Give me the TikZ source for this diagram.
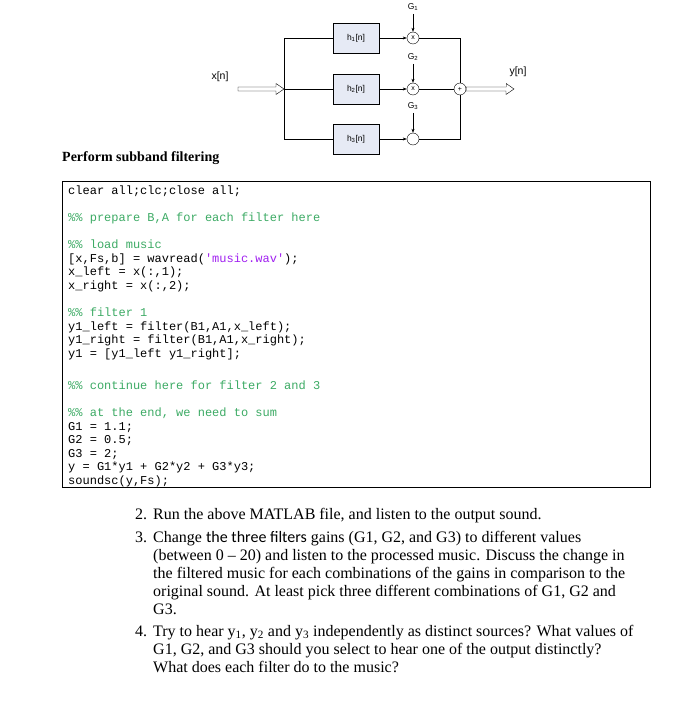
\documentclass[tikz,border=0pt]{standalone}
\usepackage{fontspec}
\setmainfont{Liberation Serif}
\newfontfamily\dsans{Liberation Sans}
\newfontfamily\dmono{Liberation Mono}
\newfontfamily\dcarl{Carlito}
\usetikzlibrary{arrows.meta}
\definecolor{cmt}{RGB}{60,170,100}
\definecolor{str}{RGB}{160,32,240}
\definecolor{boxfill}{RGB}{230,234,245}
\begin{document}
\begin{tikzpicture}[x=1pt,y=-1pt,
 blk/.style={draw,fill=boxfill,minimum width=46pt,minimum height=30pt,inner sep=0pt,font=\dsans\fontsize{8.5}{9}\selectfont},
 op/.style={draw,circle,fill=white,minimum size=12pt,inner sep=0pt,font=\dsans\fontsize{7}{7}\selectfont},
 lbl/.style={font=\dsans\fontsize{8.5}{9}\selectfont,inner sep=0pt},
 code/.style={anchor=base west,inner sep=0pt,font=\dmono\fontsize{12}{12}\selectfont},
 txt/.style={anchor=base west,inner sep=0pt,font=\fontsize{16}{18}\selectfont},
 ar/.style={-{Stealth[length=4pt]}}]
\useasboundingbox (0,0) rectangle (699,714);
% diagram
\node[blk] (h1) at (356,38) {h\textsubscript{1}[n]};
\node[blk] (h2) at (356,89) {h\textsubscript{2}[n]};
\node[blk] (h3) at (356,139) {h\textsubscript{3}[n]};
\node[op] (m1) at (413,38) {x};
\node[op] (m2) at (413,89) {x};
\node[op] (m3) at (413,139) {};
\node[op] (s) at (460,89) {+};
\node[lbl] (g1) at (413,7) {G\textsubscript{1}};
\node[lbl] (g2) at (413,57) {G\textsubscript{2}};
\node[lbl] (g3) at (413,106) {G\textsubscript{3}};
\node[lbl,font=\dsans\fontsize{10.5}{11}\selectfont] (xn) at (220,77) {x[n]};
\node[lbl,font=\dsans\fontsize{10.5}{11}\selectfont] (yn) at (518,72) {y[n]};
\coordinate (in) at (238,89);
\coordinate (sp) at (284,89);
\coordinate (out) at (514,89);
\draw[fill=white] (in) ++(0,-2) -- ++(38,0) -- ++(0,-3.5) -- (sp) -- ++(-8,5.5) -- ++(0,-3.5) -- ++(-38,0) -- cycle;
\draw (sp) |- (h1.west);
\draw (sp) |- (h3.west);
\draw (sp) -- (h2.west);
\draw[ar] (h1) -- (m1);
\draw[ar] (h2) -- (m2);
\draw[ar] (h3) -- (m3);
\draw[ar] (g1) ++(0,7) -- (m1);
\draw[ar] (g2) ++(0,7) -- (m2);
\draw[ar] (g3) ++(0,7) -- (m3);
\draw (m1) -| (s);
\draw (m3) -| (s);
\draw (m2) -- (s);
\draw[fill=white] (s.east) ++(0,-2) -- ++(40,0) -- ++(0,-3.5) -- (out) -- ++(-8,5.5) -- ++(0,-3.5) -- ++(-40,0) -- cycle;
% title
\node[anchor=base west,inner sep=0pt,font=\bfseries\fontsize{14}{16}\selectfont] (title) at (62,161) {Perform subband filtering};
% code box
\node[draw,line width=0.8pt,minimum width=588pt,minimum height=306pt,anchor=north west,inner sep=0pt] (cbox) at (62,181) {};
\node[code] (c1) at (68,194) {clear all;clc;close all;};
\node[code,cmt] (c2) at (68,221) {\%\% prepare B,A for each filter here};
\node[code,cmt] (c3) at (68,248) {\%\% load music};
\node[code] (c4) at (68,262) {[x,Fs,b] = wavread(\textcolor{str}{'music.wav'});};
\node[code] (c5) at (68,275) {x\_left = x(:,1);};
\node[code] (c6) at (68,289) {x\_right = x(:,2);};
\node[code,cmt] (c7) at (68,316) {\%\% filter 1};
\node[code] (c8) at (68,330) {y1\_left = filter(B1,A1,x\_left);};
\node[code] (c9) at (68,343) {y1\_right = filter(B1,A1,x\_right);};
\node[code] (c10) at (68,357) {y1 = [y1\_left y1\_right];};
\node[code,cmt] (c11) at (68,389) {\%\% continue here for filter 2 and 3};
\node[code,cmt] (c12) at (68,416) {\%\% at the end, we need to sum};
\node[code] (c13) at (68,430) {G1 = 1.1;};
\node[code] (c14) at (68,443) {G2 = 0.5;};
\node[code] (c15) at (68,457) {G3 = 2;};
\node[code] (c16) at (68,470) {y = G1*y1 + G2*y2 + G3*y3;};
\node[code] (c17) at (68,484) {soundsc(y,Fs);};
% list
\node[txt] (n2) at (135,519) {2.};
\node[txt] (t2) at (153,519) {Run the above MATLAB file, and listen to the output sound.};
\node[txt] (n3) at (135,542) {3.};
\node[txt] (t3a) at (153,542) {Change {\dcarl the three filters} gains (G1, G2, and G3) to different values};
\node[txt] (t3b) at (153,560) {(between 0 -- 20) and listen to the processed music. Discuss the change in};
\node[txt] (t3c) at (153,578) {the filtered music for each combinations of the gains in comparison to the};
\node[txt] (t3d) at (153,596) {original sound. At least pick three different combinations of G1, G2 and};
\node[txt] (t3e) at (153,614) {G3.};
\node[txt] (n4) at (135,636) {4.};
\node[txt] (t4a) at (153,636) {Try to hear y\textsubscript{1}, y\textsubscript{2} and y\textsubscript{3} independently as distinct sources? What values of};
\node[txt] (t4b) at (153,654) {G1, G2, and G3 should you select to hear one of the output distinctly?};
\node[txt] (t4c) at (153,672) {What does each filter do to the music?};
\end{tikzpicture}
\end{document}
